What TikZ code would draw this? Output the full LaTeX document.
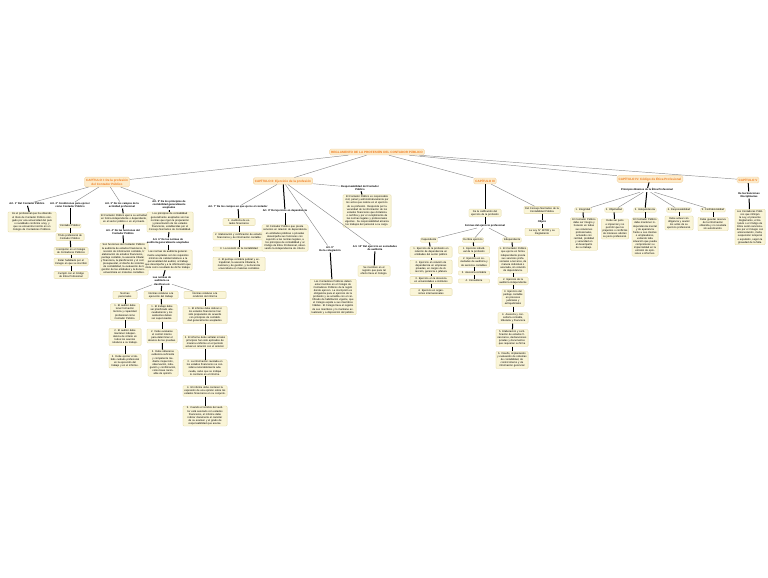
\documentclass[tikz,border=0pt]{standalone}
\usepackage{fontspec}
\setmainfont{Liberation Sans}
\usepackage{xcolor}
\definecolor{capOrange}{HTML}{F07D22}
\definecolor{capFill}{HTML}{FCEBCB}
\definecolor{capLine}{HTML}{F3D3A0}
\definecolor{boxFill}{HTML}{FAF5D8}
\definecolor{boxLine}{HTML}{E2D8A6}
\definecolor{wireGray}{HTML}{8E8E8E}

\begin{document}
\begin{tikzpicture}[x=1pt,y=-1pt,
  every node/.style={inner sep=1.1pt,font=\fontsize{2.6}{3.1}\selectfont},
  chap/.style={fill=capFill,draw=capLine,line width=0.4pt,rounded corners=1.5pt,text=capOrange,
    font=\fontsize{3.1}{3.7}\selectfont\bfseries,align=center,inner sep=1.6pt},
  lab/.style={font=\fontsize{2.6}{3.1}\selectfont\bfseries,align=center,inner sep=0.6pt},
  box/.style={fill=boxFill,draw=boxLine,line width=0.3pt,rounded corners=1pt,align=center},
  wire/.style={draw=wireGray,line width=0.45pt},
  link/.style={draw=black,line width=1pt}]
\useasboundingbox (0,0) rectangle (768,578);

% titulo y capitulos
\node [chap] (tit) at (377,152) {REGLAMENTO DE LA PROFESIÓN DEL CONTADOR PÚBLICO};
\node [chap] (c1) at (107,182) {CAPÍTULO I: De la profesión\\del Contador Público};
\node [chap] (c2) at (283,181) {CAPÍTULO II: Ejercicio de la profesión};
\node [chap] (c3) at (485,181) {CAPÍTULO III};
\node [chap] (c4) at (650,179) {CAPÍTULO IV: Código de Ética Profesional};
\node [chap] (c5) at (748,180) {CAPÍTULO V};
\draw [wire] (tit) -- (c1);
\draw [wire] (tit) -- (c2);
\draw [wire] (tit) -- (c3);
\draw [wire] (tit) -- (c4);
\draw [wire] (tit) -- (c5);

% capitulo I
\node [lab] (a1) at (27,204) {Art. 1° Del Contador Público};
\node [box,text width=46pt] (a1b) at (32,222) {Es el profesional que ha obtenido el título de Contador Público otorgado por una universidad del país o revalidado conforme a ley, y que se encuentra inscrito en un Colegio de Contadores Públicos.};
\node [lab] (a2) at (70,205) {Art. 2° Condiciones para ejercer\\como Contador Público};
\node [box] (a2b1) at (70,226) {Contador Público};
\node [box,text width=26pt] (a2b2) at (70,237) {Título profesional de Contador Público};
\node [box,text width=32pt] (a2b3) at (71,251) {Inscripción en el Colegio de Contadores Públicos};
\node [box,text width=32pt] (a2b4) at (71,262) {Estar habilitado por el Colegio en que se inscribió};
\node [box,text width=32pt] (a2b5) at (71,275) {Cumplir con el Código de Ética Profesional};
\node [lab] (a3) at (122,205) {Art. 3° De los campos de la\\actividad profesional};
\node [box,text width=46pt] (a3b) at (124,219) {El Contador Público ejerce su actividad en forma independiente o dependiente, en el sector público o en el privado.};
\node [lab] (a3l) at (123,232) {Art. 4° De las funciones del\\Contador Público};
\node [box,text width=46pt] (a3c) at (124,259) {Son funciones del Contador Público: la auditoría de estados financieros, la revisión de información contable, la elaboración de estados financieros, el peritaje contable, la asesoría tributaria y financiera, la planificación y el control presupuestal, el diseño de sistemas de contabilidad, la evaluación de la gestión de las entidades y la docencia universitaria en materias contables.};
\node [lab] (a4) at (169,205) {Art. 5° De los principios de\\contabilidad generalmente\\aceptados};
\node [box,text width=44pt] (a4b) at (170,222) {Los principios de contabilidad generalmente aceptados son las normas que rigen la preparación y presentación de los estados financieros, establecidas por el Consejo Normativo de Contabilidad.};
\node [lab] (a4l) at (168,241) {Art. 6° De las normas de\\auditoría generalmente aceptadas};
\node [box,text width=46pt] (a4c) at (168,260) {Las normas de auditoría generalmente aceptadas son los requisitos mínimos de calidad relativos a la personalidad del auditor, al trabajo que desempeña y a la información que rinde como resultado de dicho trabajo.};
\node [lab] (a4m) at (162,281) {Las normas de\\auditoría se\\clasifican en:};
\draw [wire] (c1) -- (a1);
\draw [wire] (c1) -- (a2);
\draw [wire] (c1) -- (a3);
\draw [wire] (c1) -- (a4);
\draw [link] (a1) -- (a1b);
\draw [link] (a2) -- (a2b1);
\draw [link] (a2b1) -- (a2b2);
\draw [link] (a2b2) -- (a2b3);
\draw [link] (a2b3) -- (a2b4);
\draw [link] (a2b4) -- (a2b5);
\draw [link] (a3) -- (a3b);
\draw [link] (a3b) -- (a3l);
\draw [link] (a3l) -- (a3c);
\draw [link] (a4) -- (a4b);
\draw [link] (a4b) -- (a4l);
\draw [link] (a4l) -- (a4c);
\draw [link] (a4c) -- (a4m);

% normas de auditoria
\node [box,text width=22pt] (n1) at (125,295) {Normas\\personales};
\node [box,text width=27pt] (n1a) at (125,312) {1. El auditor debe tener formación técnica y capacidad profesional como Contador Público.};
\node [box,text width=30pt] (n1b) at (125,337) {2. El auditor debe mantener independencia de criterio en todos los asuntos relativos a su trabajo.};
\node [box,text width=30pt] (n1c) at (125,361) {3. Debe ejercer el debido cuidado profesional en la ejecución del trabajo y en el informe.};
\node [box,text width=32pt] (n2) at (161,295) {Normas relativas a la\\ejecución del trabajo};
\node [box,text width=28pt] (n2a) at (162,313) {1. El trabajo debe ser planificado adecuadamente y los asistentes deben ser supervisados.};
\node [box,text width=28pt] (n2b) at (162,336) {2. Debe evaluarse el control interno para determinar el alcance de las pruebas.};
\node [box,text width=28pt] (n2c) at (163,363) {3. Debe obtenerse evidencia suficiente y competente mediante inspección, observación, indagación y confirmación, como base razonable de opinión.};
\node [box,text width=40pt] (n3) at (205,295) {Normas relativas a la\\rendición del informe};
\node [box,text width=42pt] (n3a) at (205,315) {1. El informe debe indicar si los estados financieros han sido preparados de acuerdo con principios de contabilidad generalmente aceptados.};
\node [box,text width=42pt] (n3b) at (205,342) {2. El informe debe señalar si tales principios han sido aplicados de manera uniforme en el período actual en relación con el anterior.};
\node [box,text width=42pt] (n3c) at (205,368) {3. La información revelada en los estados financieros se considera razonablemente adecuada, salvo que se indique lo contrario en el informe.};
\node [box,text width=42pt] (n3d) at (205,391) {4. El informe debe contener la expresión de una opinión sobre los estados financieros en su conjunto.};
\node [box,text width=42pt] (n3e) at (205,416) {5. Cuando el nombre del auditor está asociado con estados financieros, el informe debe indicar claramente el carácter de su examen y el grado de responsabilidad que asume.};
\draw [wire] (a4m) -- (n1);
\draw [link] (a4m) -- (n2);
\draw [wire] (a4m) -- (n3);
\draw [link] (n1) -- (n1a);
\draw [link] (n1a) -- (n1b);
\draw [link] (n1b) -- (n1c);
\draw [link] (n2) -- (n2a);
\draw [link] (n2a) -- (n2b);
\draw [link] (n2b) -- (n2c);
\draw [link] (n3) -- (n3a);
\draw [link] (n3a) -- (n3b);
\draw [link] (n3b) -- (n3c);
\draw [link] (n3c) -- (n3d);
\draw [link] (n3d) -- (n3e);

% capitulo II
\node [lab] (b1) at (238,207) {Art. 7° De los campos en que ejerce el contador};
\node [box,text width=30pt] (b1a) at (239,222) {1. Auditoría de estados financieros};
\node [box,text width=50pt] (b1b) at (239,236) {2. Elaboración y certificación de estados financieros y de información contable};
\node [box,text width=50pt] (b1c) at (239,249) {3. La revisión de la contabilidad};
\node [box,text width=50pt] (b1d) at (239,264) {4. El peritaje contable judicial y extrajudicial, la asesoría tributaria, financiera y de gestión, y la docencia universitaria en materias contables};
\node [lab] (b2) at (285,211) {Art. 8° Del ejercicio en dependencia};
\node [box,text width=44pt] (b2a) at (285,238) {El Contador Público que presta servicios en relación de dependencia en entidades públicas o privadas desempeña sus funciones con sujeción a las normas legales, a los principios de contabilidad y al Código de Ética Profesional, observando la independencia de criterio.};
\node [lab] (b3) at (360,188) {Responsabilidad del Contador\\Público};
\node [box,text width=46pt] (b3a) at (367,211) {El Contador Público es responsable civil, penal y administrativamente por los actos que realice en el ejercicio de su profesión. Responde por la veracidad de la información de los estados financieros que dictamina o certifica y por el cumplimiento de las normas legales y profesionales vigentes. Su responsabilidad alcanza los trabajos del personal a su cargo.};
\node [lab] (b4) at (330,249) {Art. 9°\\De la colegiación};
\node [box,text width=44pt] (b4a) at (333,297) {Los Contadores Públicos deben estar inscritos en el Colegio de Contadores Públicos de la región donde ejercen. La inscripción es obligatoria para el ejercicio de la profesión y se acredita con el certificado de habilitación vigente, que el Colegio expide a sus miembros hábiles. El Colegio lleva el registro de sus miembros y lo mantiene actualizado y a disposición del público.};
\node [lab] (b5) at (375,248) {Art. 10° Del ejercicio en sociedades\\de auditoría};
\node [box,text width=30pt] (b5a) at (374,271) {Se inscriben en el registro que para tal efecto lleva el Colegio.};
\draw [wire] (c2) -- (b1);
\draw [link] (c2) -- (b2);
\draw [wire] (c2) -- (b3);
\draw [wire] (c2) -- (b4);
\draw [wire] (c2) -- (b5);
\draw [link] (b1) -- (b1a);
\draw [link] (b1a) -- (b1b);
\draw [link] (b1b) -- (b1c);
\draw [link] (b1c) -- (b1d);
\draw [link] (b2) -- (b2a);
\draw [link] (b3) -- (b3a);
\draw [link] (b4) -- (b4a);
\draw [link] (b5) -- (b5a);

% capitulo III
\node [box,text width=30pt] (d1) at (485,213) {De la calificación del\\ejercicio de la profesión};
\node [lab] (d1l) at (485,226) {Formas del ejercicio profesional};
\node [box] (e1) at (429,240) {Dependiente};
\node [box,text width=40pt] (e1a) at (431,252) {1. Ejercicio de la profesión en relación de dependencia en entidades del sector público};
\node [box,text width=40pt] (e1b) at (431,267) {2. Ejercicio en relación de dependencia en empresas privadas, en cargos de dirección, gerencia o jefatura};
\node [box,text width=40pt] (e1c) at (431,280) {3. Ejercicio en la docencia en universidades e institutos};
\node [box,text width=40pt] (e1d) at (431,292) {4. Ejercicio en organismos internacionales};
\node [box] (e2) at (473,240) {De libre ejercicio};
\node [box,text width=29pt] (e2a) at (474,250) {1. Ejercicio individual de la profesión};
\node [box,text width=29pt] (e2b) at (474,262) {2. Ejercicio en sociedades de auditoría y de servicios contables};
\node [box,text width=29pt] (e2c) at (474,273) {3. Asesoría contable};
\node [box,text width=29pt] (e2d) at (474,281) {4. Consultoría};
\node [box] (e3) at (512,240) {Independiente};
\node [box,text width=27pt] (e3a) at (513,260) {1. El Contador Público que ejerce en forma independiente presta sus servicios profesionales a terceros, de manera individual o asociada, sin relación de dependencia.};
\node [box,text width=28pt] (e3b) at (513,281) {2. Ejercicio de la auditoría independiente};
\node [box,text width=20pt] (e3c) at (513,298) {3. Ejercicio del peritaje contable en procesos judiciales y extrajudiciales};
\node [box,text width=28pt] (e3d) at (513,318) {4. Asesoría y consultoría contable, tributaria y financiera};
\node [box,text width=30pt] (e3e) at (512,338) {5. Elaboración y certificación de estados financieros, declaraciones juradas y documentos que requieran su firma};
\node [box,text width=30pt] (e3f) at (512,360) {6. Diseño, implantación y evaluación de sistemas de contabilidad, de control interno y de información gerencial};
\node [box,text width=34pt] (d2) at (542,210) {Del Consejo Normativo de la\\Contabilidad Pública};
\node [lab] (d2l) at (542,222) {Objeto};
\node [box,text width=32pt] (d2a) at (542,232) {La Ley N° 28708 y su\\Reglamento};
\draw [link] (c3) -- (d1);
\draw [link] (d1) -- (d1l);
\draw [wire] (d1l) -- (e1);
\draw [wire] (d1l) -- (e2);
\draw [wire] (d1l) -- (e3);
\draw [link] (e1) -- (e1a);
\draw [link] (e1a) -- (e1b);
\draw [link] (e1b) -- (e1c);
\draw [link] (e1c) -- (e1d);
\draw [link] (e2) -- (e2a);
\draw [link] (e2a) -- (e2b);
\draw [link] (e2b) -- (e2c);
\draw [link] (e2c) -- (e2d);
\draw [link] (e3) -- (e3a);
\draw [link] (e3a) -- (e3b);
\draw [link] (e3b) -- (e3c);
\draw [link] (e3c) -- (e3d);
\draw [link] (e3d) -- (e3e);
\draw [link] (e3e) -- (e3f);
\draw [wire] (c3) -- (d2);
\draw [link] (d2) -- (d2l);
\draw [link] (d2l) -- (d2a);

% capitulo IV
\node [lab] (f0) at (647,190) {Principios Básicos de la Ética Profesional};
\node [box] (f1) at (583,210) {1. Integridad};
\node [box,text width=25pt] (f1a) at (584,234) {El Contador Público debe ser íntegro y honesto en todas sus relaciones profesionales, actuando con rectitud, probidad y veracidad en el desempeño de su trabajo.};
\node [box] (f2) at (614,210) {2. Objetividad};
\node [box,text width=25pt] (f2a) at (615,229) {Debe ser justo e imparcial y no permitir que los prejuicios o conflictos de intereses afecten su juicio profesional.};
\node [box] (f3) at (645,210) {3. Independencia};
\node [box,text width=24pt] (f3a) at (645,237) {El Contador Público debe mantener independencia mental y de apariencia frente a sus clientes o empleadores, evitando toda situación que pueda comprometer su imparcialidad en la emisión de opiniones e informes.};
\node [box] (f4) at (679,210) {4. Responsabilidad};
\node [box,text width=26pt] (f4a) at (679,223) {Debe actuar con diligencia y asumir los actos de su ejercicio profesional.};
\node [box] (f5) at (713,210) {5. Confidencialidad};
\node [box,text width=28pt] (f5a) at (713,224) {Debe guardar reserva de la información obtenida y no revelarla sin autorización.};
\draw [link] (c4) -- (f0);
\draw [wire] (f0) -- (f1);
\draw [wire] (f0) -- (f2);
\draw [link] (f0) -- (f3);
\draw [wire] (f0) -- (f4);
\draw [wire] (f0) -- (f5);
\draw [link] (f1) -- (f1a);
\draw [link] (f2) -- (f2a);
\draw [link] (f3) -- (f3a);
\draw [link] (f4) -- (f4a);
\draw [link] (f5) -- (f5a);

% capitulo V
\node [lab] (g0) at (749,195) {De las Sanciones\\Disciplinarias};
\node [box,text width=28pt] (g1) at (750,227) {Los Contadores Públicos que infrinjan la Ley, el presente Reglamento, el Estatuto o el Código de Ética serán sancionados por el Colegio con amonestación, multa, suspensión temporal o expulsión, según la gravedad de la falta.};
\draw [link] (c5) -- (g0);
\draw [link] (g0) -- (g1);
\end{tikzpicture}
\end{document}
